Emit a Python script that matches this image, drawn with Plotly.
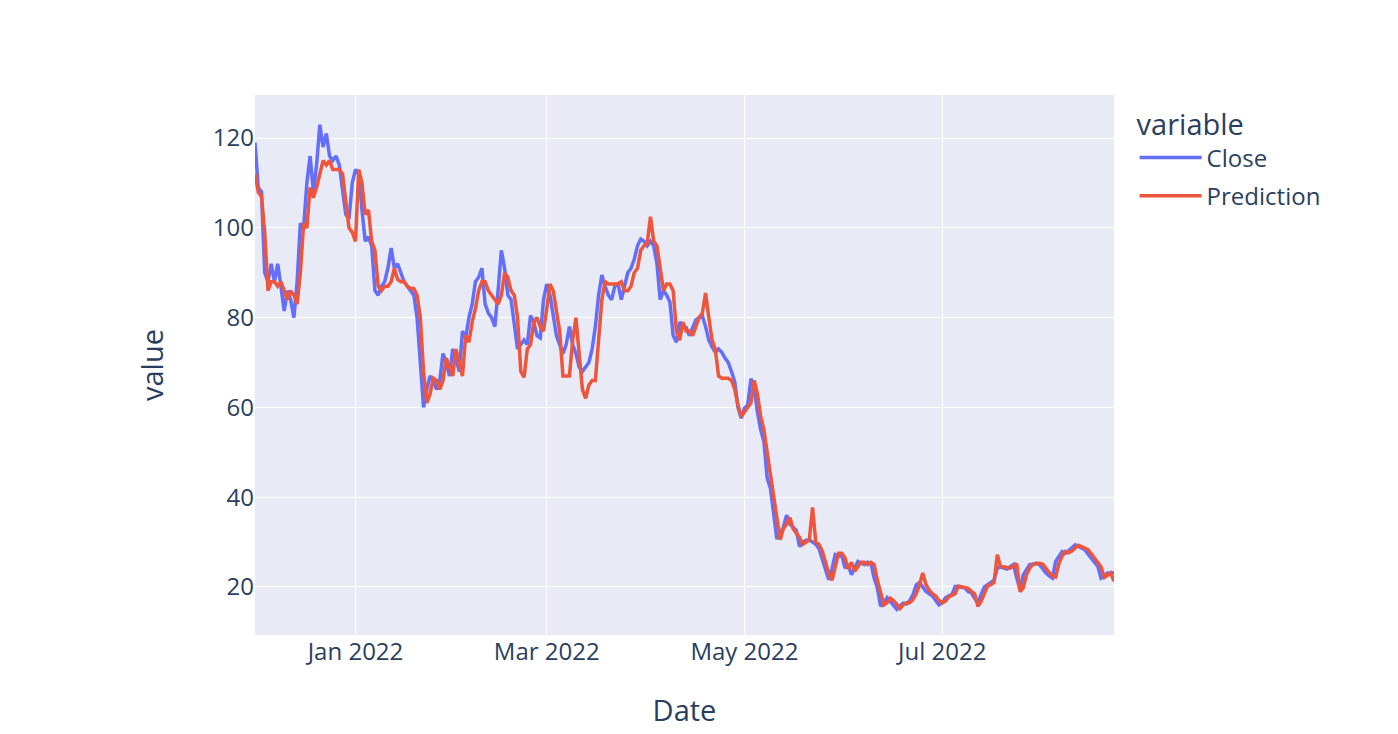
import pandas as pd
import plotly.graph_objects as go

# Daily values, 2021-12-01 .. 2022-08-23
close_dec = [119, 109, 108, 90, 88, 92, 88, 92, 87, 81.5, 86, 84, 80, 88, 101, 100, 110, 116, 108, 114,
             123, 118, 121, 116, 115, 116, 114, 109, 103, 102, 110]
close_jan = [113, 112, 104, 97, 98, 96, 86, 85, 87, 88, 91, 95.5, 91, 92, 90, 88, 87, 86, 85, 80,
             70, 60, 64, 67, 66, 64, 66, 72, 70, 67, 73]
close_feb = [71, 68, 77, 75.5, 80, 83, 88, 89, 91, 83, 81, 80, 78, 86, 95, 91, 85, 84, 79, 73,
             74, 75, 74, 80.5, 79, 76, 75.5, 84]
close_mar = [87.5, 85, 80.5, 76, 74, 72, 74, 78, 74, 72, 69, 68, 69, 70, 73, 78, 85, 89.5, 87, 85,
             84, 87, 87.5, 84, 87, 90, 91, 93, 96, 97.5, 97]
close_apr = [96, 97, 96, 92, 84, 86, 85, 83.5, 76, 74.5, 79, 78, 77.8, 76, 78, 79.5, 80, 80.4, 78, 75,
             73.5, 72.3, 73, 72.3, 71, 70, 68, 65.7, 60, 57.6]
close_may = [59.8, 60.5, 66.4, 64.5, 59, 55, 52.4, 44.3, 42, 36, 30.7, 32, 33.3, 36, 34, 33.3, 32.6, 29, 30, 30.4,
             30.4, 30, 29.5, 28.5, 26, 23.5, 21.6, 24, 27.2, 26.8, 27.2]
close_jun = [24.2, 25, 22.7, 24, 25.7, 25.3, 25, 25.5, 25.3, 22, 19.8, 15.7, 16.5, 17.6, 16.8, 16, 15, 15.8, 16.4, 16.2,
             17, 18.3, 20.5, 21, 20, 19, 18.5, 18, 17, 16]
close_jul = [16.5, 17.6, 18, 18.3, 20.1, 20, 19.8, 19.8, 19, 18.7, 17.5, 16.5, 18.3, 20, 20.5, 21, 21.5, 24.2, 24.5, 24.2,
             24, 24.5, 25, 22, 19.5, 22.7, 24, 25, 25, 25.3, 25]
close_aug = [24, 23.1, 22.5, 22, 25.7, 26.8, 27.9, 27.5, 28, 28.7, 29.4, 29, 28.7, 28.3, 27.3, 26.4, 25.5, 24.6, 22, 22.5,
             23.1, 23.1, 23.2]

pred_dec = [112, 108, 107, 99, 86, 88, 88, 87, 88, 86, 84, 86, 85, 83, 90, 101, 100, 109, 106.7, 109,
            112, 115, 114, 115, 113, 113, 113, 112, 106, 100, 99]
pred_jan = [97, 113, 110, 103, 104, 97, 95, 87, 86, 87, 87, 88, 91, 88.5, 88, 88, 87, 86.5, 86.5, 85,
            80, 68, 61, 63, 66.5, 66, 64, 66, 71, 69, 67]
pred_feb = [73, 70, 67, 76, 74.5, 79, 82, 86, 88, 88, 86, 85, 84, 83, 85, 90, 89, 86, 85, 80,
            68, 66.7, 73, 74, 79, 80, 78, 77]
pred_mar = [82, 87.5, 86, 81, 77, 67, 67, 67, 75, 80, 72, 64, 62, 65, 66, 66, 75, 84, 88, 87.5,
            87.5, 87.5, 87.5, 88, 86, 86, 87, 90, 91, 95, 96]
pred_apr = [96.5, 102.5, 97, 96, 91, 86, 87.5, 87.5, 86, 77, 75, 79, 77, 77, 76, 78, 80, 81, 85.5, 80,
            75, 73, 67, 66.5, 66.5, 66.5, 66, 64, 60.5, 58]
pred_may = [59, 60, 61, 66, 63, 58, 55, 50, 45, 40, 35.5, 30.5, 33, 34, 35.5, 33, 32, 31, 29.5, 30,
            30.5, 37.7, 30, 29.5, 28, 25.5, 23, 21.5, 24.5, 27.5, 27.5]
pred_jun = [26.5, 24, 25.5, 23.5, 24.5, 25.5, 25.5, 25, 25.5, 25, 21.5, 19, 16, 16.5, 17.5, 17, 16, 15.2, 16, 16.5,
            16.5, 17.2, 18.5, 20.5, 23.1, 20.5, 19.3, 18.5, 18, 17]
pred_jul = [16.5, 16.8, 17.8, 18.2, 18.5, 20.2, 20, 19.7, 19.7, 19, 18.5, 15.7, 16.8, 18.5, 20.2, 20.5, 21, 27.2, 24.5, 24.5,
            24.3, 24.2, 24.6, 25.2, 19, 19.8, 22.7, 24.2, 25.1, 25.2, 25.3]
pred_aug = [25.1, 24, 23.2, 22.5, 22.2, 25.2, 26.9, 27.9, 27.6, 28, 28.7, 29.3, 29, 28.7, 28.3, 27.4, 26.4, 25.4, 24.5, 22.1,
            22.5, 23.1, 21.3]

close = close_dec + close_jan + close_feb + close_mar + close_apr + close_may + close_jun + close_jul + close_aug
prediction = pred_dec + pred_jan + pred_feb + pred_mar + pred_apr + pred_may + pred_jun + pred_jul + pred_aug
dates = pd.date_range("2021-12-01", periods=len(close), freq="D")

fig = go.Figure()
fig.add_trace(go.Scatter(x=dates, y=close, mode="lines", name="Close", legendgroup="Close",
                         line=dict(color="#636efa", width=3.5)))
fig.add_trace(go.Scatter(x=dates, y=prediction[:len(dates)], mode="lines", name="Prediction",
                         legendgroup="Prediction", line=dict(color="#EF553B", width=3.5)))

fig.update_layout(
    template="plotly",
    width=1398, height=734,
    margin=dict(l=247, r=292, t=87, b=107),
    font=dict(family="Open Sans, sans-serif", size=24, color="#2a3f5f"),
    plot_bgcolor="#E8EAF5",
    legend=dict(title=dict(text="variable"), tracegroupgap=4, itemwidth=62,
                x=1.024, y=0.995),
    xaxis=dict(title=dict(text="Date", standoff=34), dtick="M2", tickformat="%b %Y"),
    yaxis=dict(title=dict(text="value", standoff=40), range=[9.3, 129.6], dtick=20),
)
fig.write_html("out.html")
